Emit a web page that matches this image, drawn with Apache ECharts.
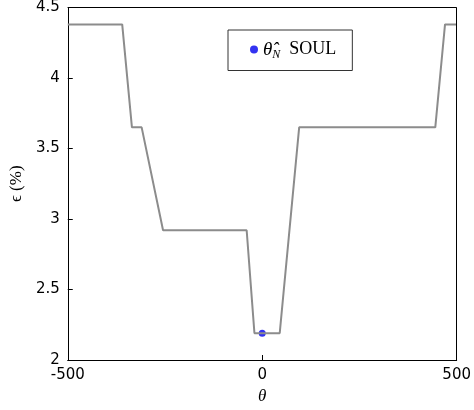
<!DOCTYPE html>
<html>
<head>
<meta charset="utf-8">
<script src="https://cdn.jsdelivr.net/npm/echarts@6/dist/echarts.min.js"></script>
<style>html,body{margin:0;padding:0;background:#fff}#chart{width:474px;height:410px}</style>
</head>
<body>
<div id="chart"></div>
<script>
// curve points (theta, epsilon %)
const curveTheta = [-500, -360, -335, -310, -255, -40, -20, 45, 95, 445, 470, 500];
const curveEps = [4.38, 4.38, 3.65, 3.65, 2.92, 2.92, 2.19, 2.19, 3.65, 3.65, 4.38, 4.38];
const soulTheta = [0];
const soulEps = [2.19];

const chart = echarts.init(document.getElementById('chart'));
const font = 'Liberation Serif';

chart.setOption({
  animation: false,
  grid: { left: 60, right: 12, top: 5, bottom: 50 },
  legend: {
    data: [{ name: 'soul', icon: 'circle' }],
    left: 228, top: 30,
    itemWidth: 8, itemHeight: 8,
    padding: [10, 16, 10, 22],
    borderColor: '#333', borderWidth: 1,
    formatter: () => '{a|θ̂}{s|N}{b|  SOUL}',
    textStyle: {
      rich: {
        a: { fontFamily: font, fontSize: 19, fontStyle: 'italic', color: '#000' },
        s: { fontFamily: font, fontSize: 12, fontStyle: 'italic', color: '#000', padding: [10, 0, 0, 0] },
        b: { fontFamily: font, fontSize: 18, color: '#000' }
      }
    }
  },
  xAxis: {
    type: 'value', min: -500, max: 500, interval: 500,
    name: 'θ', nameLocation: 'middle', nameGap: 27,
    nameTextStyle: { fontFamily: font, fontStyle: 'italic', fontSize: 17, color: '#000' },
    axisLine: { onZero: false, lineStyle: { color: '#000' } },
    axisTick: { inside: true, lineStyle: { color: '#000' } },
    axisLabel: { fontFamily: 'DejaVu Sans', fontSize: 15, color: '#000' },
    splitLine: { show: false }
  },
  yAxis: {
    type: 'value', min: 2, max: 4.5, interval: 0.5,
    name: 'ϵ (%)', nameLocation: 'middle', nameGap: 38,
    nameTextStyle: { fontFamily: font, fontSize: 17, color: '#000' },
    axisLine: { show: true, onZero: false, lineStyle: { color: '#000' } },
    axisTick: { show: true, inside: true, lineStyle: { color: '#000' } },
    axisLabel: { fontFamily: 'DejaVu Sans', fontSize: 15, color: '#000' },
    splitLine: { show: false }
  },
  series: [
    {
      type: 'line', name: 'curve', silent: true,
      data: curveTheta.map((t, i) => [t, curveEps[i]]),
      showSymbol: false,
      lineStyle: { color: '#8c8c8c', width: 2 },
      markLine: {
        silent: true, symbol: 'none', label: { show: false },
        lineStyle: { color: '#000', width: 1, type: 'solid' },
        data: [[{ coord: [-500, 4.5] }, { coord: [500, 4.5] }], [{ coord: [500, 2] }, { coord: [500, 4.5] }]]
      }
    },
    {
      type: 'scatter', name: 'soul',
      data: soulTheta.map((t, i) => [t, soulEps[i]]),
      symbolSize: 7,
      itemStyle: { color: '#0000ee' }
    }
  ]
});
window.addEventListener('resize', () => chart.resize());
</script>
</body>
</html>
